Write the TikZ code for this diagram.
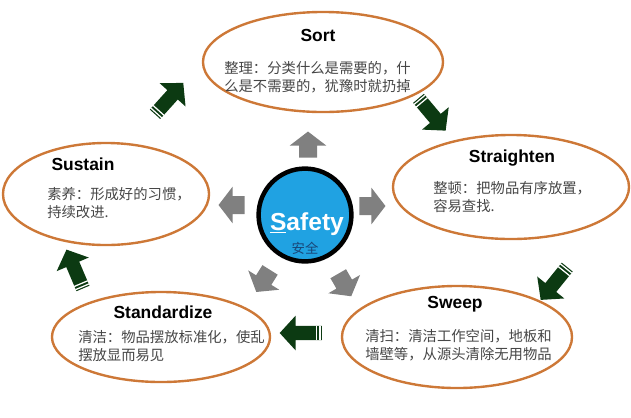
\documentclass[tikz,border=0pt]{standalone}
\usepackage{fontspec}
\setmainfont{Liberation Sans}
\newfontfamily\cjk{Noto Sans CJK SC}
\usetikzlibrary{shapes.geometric, shapes.arrows, calc}

\definecolor{ringorange}{RGB}{205,120,55}
\definecolor{safetyblue}{RGB}{32,162,226}
\definecolor{safetydark}{RGB}{25,70,120}
\definecolor{stepgreen}{RGB}{12,58,18}
\definecolor{arrowgray}{RGB}{128,128,128}
\definecolor{bodygray}{RGB}{70,70,70}

\begin{document}
\begin{tikzpicture}[
    x=0.025cm, y=-0.025cm, % one unit = one pixel of the reference
    ring/.style={ellipse, draw=ringorange, line width=1.7pt, inner sep=0pt},
    heading/.style={font=\bfseries\fontsize{12.4}{15}\selectfont, anchor=base, inner sep=0pt},
    body/.style={font=\cjk\fontsize{10.2}{13.1}\selectfont, text=bodygray, align=left, anchor=west, inner sep=0pt},
    grayarrow/.style={single arrow, fill=arrowgray, inner xsep=0pt, inner ysep=6.2pt,
        minimum height=18.5pt, single arrow head extend=6.6pt, single arrow tip angle=105},
    greenarrow/.style={single arrow, fill=stepgreen, inner xsep=0pt, inner ysep=4.8pt,
        minimum height=30pt, single arrow head extend=7.4pt, single arrow tip angle=95}
]

\useasboundingbox (0,0) rectangle (631,417);

% Central circle
\node[circle, fill=safetyblue, draw=black, line width=3.2pt, minimum size=2.32cm, inner sep=0pt] (safety) at (305,215) {};
\node[font=\bfseries\fontsize{17.5}{20}\selectfont, text=white, anchor=base, inner sep=0pt] (safetytext) at (307,230) {\underline{S}afety};
\node[font=\cjk\fontsize{9.5}{11}\selectfont, text=safetydark, inner sep=0pt] (anquan) at (305,248) {安全};

% Five steps
\node[ring, minimum width=6cm, minimum height=2.5cm] (sort) at (323,62) {};
\node[ring, minimum width=5.9cm, minimum height=2.6cm] (straighten) at (511,187) {};
\node[ring, minimum width=5.15cm, minimum height=2.55cm] (sustain) at (106,194) {};
\node[ring, minimum width=5.45cm, minimum height=2.25cm] (standardize) at (161,337) {};
\node[ring, minimum width=5.75cm, minimum height=2.55cm] (sweep) at (457,337) {};

% Headings and texts
\node[heading] (sorthead) at (318,41) {Sort};
\node[body] (sorttext) at (224,77) {整理：分类什么是需要的，什\\么是不需要的，犹豫时就扔掉};
\node[heading] (straightenhead) at (512,162) {Straighten};
\node[body] (straightentext) at (433,197) {整顿：把物品有序放置，\\容易查找.};
\node[heading] (sustainhead) at (83,170) {Sustain};
\node[body] (sustaintext) at (47,203) {素养：形成好的习惯，\\持续改进.};
\node[heading] (standardizehead) at (163,318) {Standardize};
\node[body] (standardizetext) at (78,346) {清洁：物品摆放标准化，使乱\\摆放显而易见};
\node[heading] (sweephead) at (455,308) {Sweep};
\node[body] (sweeptext) at (365,345) {清扫：清洁工作空间，地板和\\墙壁等，从源头清除无用物品};

% Gray arrows around the circle
\node[grayarrow, rotate=90] (gup) at (308,148) {};
\node[grayarrow, rotate=180] (gleft) at (235,205) {};
\node[grayarrow] (gright) at (369,206) {};
\node[grayarrow, rotate=-122] (gdownleft) at (265,278) {};
\node[grayarrow, rotate=-60] (gdownright) at (343,282) {};

% Green arrows between the steps
\node[greenarrow, rotate=48] (g1) at (167,101) {};
\node[greenarrow, rotate=-50] (g2) at (430,112) {};
\node[greenarrow, rotate=-129] (g3) at (556,281) {};
\node[greenarrow, rotate=180] (g4) at (304,333) {};
\node[greenarrow, rotate=113] (g5) at (76,272) {};
\foreach \g in {g1,g2,g3,g4,g5}{
  \draw[white, line width=0.9pt] ($(\g.before tail)!0.08!(\g.after head)$) -- ($(\g.after tail)!0.08!(\g.before head)$);
  \draw[white, line width=0.9pt] ($(\g.before tail)!0.21!(\g.after head)$) -- ($(\g.after tail)!0.21!(\g.before head)$);
}

\end{tikzpicture}
\end{document}
